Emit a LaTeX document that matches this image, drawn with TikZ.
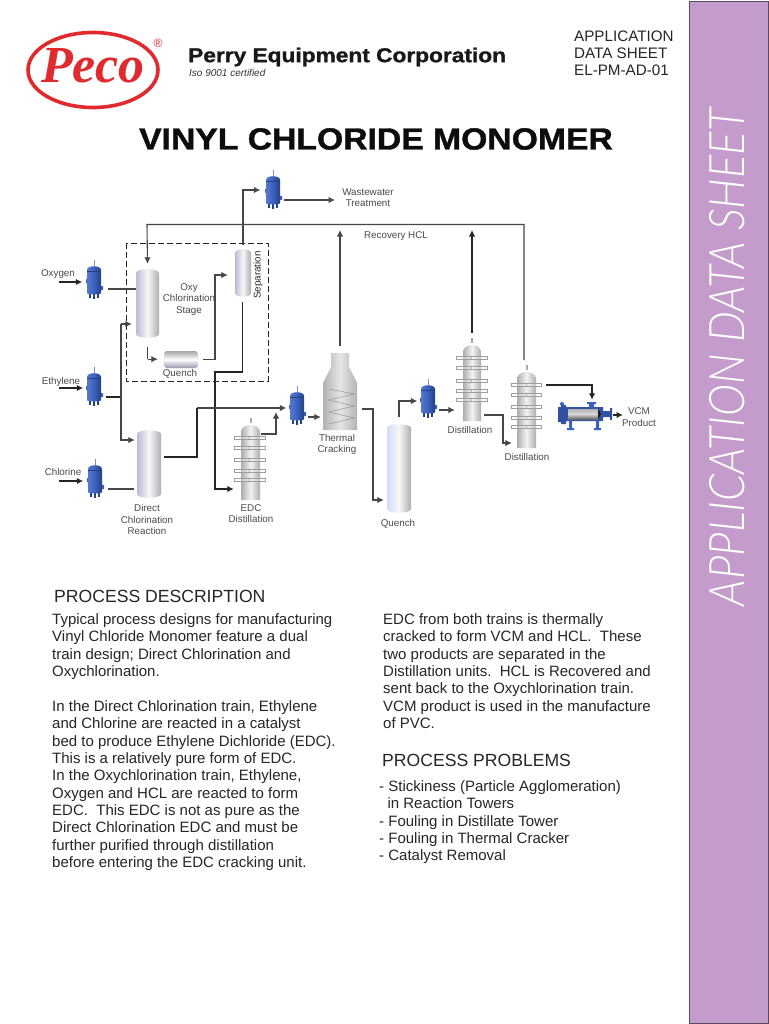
\documentclass[tikz,border=0pt]{standalone}
\usepackage{graphicx}
\usepackage{fontspec}
\setmainfont{Liberation Sans}
\newfontfamily\heavyfont[BoldFeatures={FakeBold=1.2}]{Liberation Sans}
\newfontfamily\sidefont{Lato Light Italic}
\newfontfamily\logofont{Liberation Serif}
\usetikzlibrary{arrows.meta,calc,shapes.geometric}
\definecolor{lilac}{HTML}{C49CCB}
\definecolor{lilacedge}{HTML}{5A4A5E}
\definecolor{pecored}{HTML}{E02A2E}
\definecolor{filterblue}{HTML}{3A60C0}
\definecolor{filterdark}{HTML}{24417F}
\definecolor{steel}{HTML}{A9ABAE}
\definecolor{lbl}{HTML}{4A4A4A}
\definecolor{vleft}{HTML}{B9BCD6}
\definecolor{vbigleft}{HTML}{D4DBF8}
\tikzset{
  x=1pt,y=-1pt,
  lab/.style={font=\fontsize{9.8}{11.3}\selectfont,text=lbl,align=center,inner sep=0pt},
  bodytxt/.style={font=\fontsize{15}{17.35}\selectfont,text=black!85,align=left,anchor=north west,inner sep=0pt},
  headtxt/.style={font=\fontsize{17.6}{20}\selectfont,text=black!85,anchor=west,inner sep=0pt},
  ln/.style={draw=black!72,line width=1.1pt},
  lnb/.style={draw=black!85,line width=1.8pt},
  arr/.style={-{Latex[length=6.5pt,width=6.5pt]}},
  tray/.style={draw=black!38,fill=white,fill opacity=.25,line width=.5pt},
}
\newcommand{\filterat}[3]{% name, x, y(center)
  \node[inner sep=0pt,minimum width=15pt,minimum height=38pt] (#1) at (#2,#3) {};
  \begin{scope}[shift={(#2,#3)}]
    \draw[filterblue!70,line width=.9pt] (0,-20) -- (0,-13);
    \draw[filterdark,line width=1.1pt] (-4,13) -- (-4,18) (0,13) -- (0,19) (4,13) -- (4,18);
    \fill[filterblue] (-8,-1) rectangle (-5,3) (5,6) rectangle (9,10);
    \shade[left color=filterblue!85,right color=filterdark,middle color=filterblue]
      (-7,-10) .. controls (-7,-15) and (7,-15) .. (7,-10) -- (7,13) .. controls (7,15) and (-7,15) .. (-7,13) -- cycle;
    \fill[filterdark] (-7,-9) rectangle (7,-8);
  \end{scope}}
\newcommand{\vesselat}[6]{% name x1 y1 x2 y2 left color
  \node[inner sep=0pt,minimum width={#4pt-#2pt},minimum height={#5pt-#3pt}] (#1) at ({(#2+#4)/2},{(#3+#5)/2}) {};
  \shade[left color=#6,right color=black!32,middle color=black!3]
   (#2,#3+5) .. controls (#2,#3) and (#4,#3) .. (#4,#3+5) -- (#4,#5-5) .. controls (#4,#5) and (#2,#5) .. (#2,#5-5) -- cycle;}
\newcommand{\columnat}[8]{% name x1 x2 top bottom(flat) tray-x1 tray-x2 tray-list
  \node[inner sep=0pt,minimum width={#3pt-#2pt},minimum height={#5pt-#4pt}] (#1) at ({(#2+#3)/2},{(#4+#5)/2}) {};
  \fill[steel] ({(#2+#3)/2-1},#4-7) rectangle ({(#2+#3)/2+1},#4-2);
  \shade[left color=black!32,right color=black!32,middle color=black!5]
   (#2,#5) -- (#2,#4+8) .. controls (#2,#4+1) and ({(#2+#3)/2-3},#4) .. ({(#2+#3)/2},#4) .. controls ({(#2+#3)/2+3},#4) and (#3,#4+1) .. (#3,#4+8) -- (#3,#5) -- cycle;
  \foreach \ty in {#8} {\draw[tray] (#6,\ty-1.3) rectangle (#7,\ty+1.3);
    \draw[black!30,line width=.3pt] ({(#6+#7)/2},\ty-1.3) -- ({(#6+#7)/2},\ty+1.3);}}
\begin{document}
\begin{tikzpicture}
\useasboundingbox (0,0) rectangle (768,1024);
\fill[white] (0,0) rectangle (768,1024);
% sidebar
\path[fill=lilac,draw=lilacedge,line width=.8pt] (689.5,1) -- (768,1) -- (768,1023.5) -- (689.5,1023.5) -- cycle;
\node[rotate=90,text=white,inner sep=0pt,font=\sidefont\fontsize{49}{49}\selectfont] (sidetitle) at (727,357.5) {\scalebox{.889}[1]{APPLICATION DATA SHEET}};
% logo
\node[draw=pecored,line width=3.6pt,ellipse,minimum width=130pt,minimum height=75pt,inner sep=0pt] (logo) at (93,70) {};
\node[text=pecored,inner sep=0pt,font=\logofont\bfseries\itshape\fontsize{52}{52}\selectfont] (logotxt) at (93,66) {Peco};
\node[text=pecored,inner sep=0pt,font=\fontsize{12}{12}\selectfont] (reg) at (158,43.5) {®};
% header
\node[anchor=west,inner sep=0pt,font=\heavyfont\bfseries\fontsize{20}{20}\selectfont,text=black!90] (corp) at (188,57) {\scalebox{1.135}[1]{Perry Equipment Corporation}};
\node[anchor=west,inner sep=0pt,font=\itshape\fontsize{10}{10}\selectfont,text=black!80] (iso) at (189,73) {Iso 9001 certified};
\node[anchor=north west,inner sep=0pt,align=left,font=\fontsize{15.2}{17}\selectfont,text=black!85] (appl) at (574,30.5) {APPLICATION\\DATA SHEET\\EL-PM-AD-01};
\node[inner sep=0pt,font=\heavyfont\bfseries\fontsize{30.5}{30.5}\selectfont,text=black!95] (title) at (376,139) {\scalebox{1.105}[1]{VINYL CHLORIDE MONOMER}};
% dashed box
\draw[black!85,line width=1pt,dash pattern=on 6pt off 3pt] (126,243) rectangle (268,381);
% equipment
\filterat{foxy}{94}{280}
\filterat{feth}{94}{387}
\filterat{fchl}{95}{479}
\filterat{ftop}{273}{190}
\filterat{fmid}{297}{406}
\filterat{fqu}{428}{399}
\vesselat{voxy}{136}{268}{159}{339}{vleft}
\vesselat{vsep}{235}{248}{251}{298}{vleft}
\vesselat{vdir}{137}{429}{161}{499}{vleft}
\vesselat{vbig}{387}{423}{411}{514}{vbigleft}
\node[inner sep=0pt,minimum width=34pt,minimum height=17pt] (vqu) at (181,359.5) {};
\shade[top color=black!35,bottom color=vleft!80!black,middle color=white,rounded corners=3pt] (164,351) rectangle (198,368);
\columnat{cedc}{241}{260}{425}{500}{234}{265}{438,448,460,471,480}
\columnat{cd1}{463}{481}{345}{421}{456}{487}{358,368,381,391,400}
\columnat{cd2}{517}{536}{372}{448}{511}{541}{385,395,407,418,427}
% thermal cracker
\node[inner sep=0pt,minimum width=34pt,minimum height=77pt] (therm) at (340,391.5) {};
\shade[left color=black!30,right color=black!30,middle color=black!10]
  (331,353) -- (349,353) -- (349,367) -- (357,383) -- (357,430) -- (323,430) -- (323,383) -- (331,367) -- cycle;
\draw[black!45,line width=.4pt] (329,389) -- (354,394) -- (329,400) -- (354,406) -- (329,412) -- (354,418) -- (329,424);
% heat exchanger
\node[inner sep=0pt,minimum width=54pt,minimum height=26pt] (hx) at (585,414) {};
\fill[filterblue!85!black] (558,407) rectangle (561,422) (561,405) rectangle (566,424) (566,407) rectangle (603,421) (603,411) rectangle (610,417) (610,408) rectangle (612,420);
\fill[filterblue] (562,404) circle (2pt) (589,403) rectangle (594,408) (587,402) rectangle (596,404) (569,420) rectangle (572,429) (596,420) rectangle (599,429) (567,428) rectangle (574,430) (594,428) rectangle (601,430);
\shade[top color=black!30,bottom color=black!60,middle color=black!15] (568,409) rectangle (598,419);
\fill[black!90] (598,409) -- (601,414) -- (598,419) -- cycle;
% connectors
\coordinate (oxyin) at (59,282);
\coordinate (ethin) at (59,388);
\coordinate (chlin) at (59,481);
\coordinate (ethj) at (121,397);
\coordinate (recr) at (524,224.5);
\coordinate (recl) at (147,224.5);
\coordinate (wwt) at (335,200);
\coordinate (vcm) at (623,415);
\draw[lnb,arr] (oxyin) -- ([xshift=-4pt]foxy.west |- oxyin);
\draw[lnb,arr] (ethin) -- ([xshift=-3pt]feth.west |- ethin);
\draw[lnb,arr] (chlin) -- ([xshift=-4pt]fchl.west |- chlin);
\draw[ln] ([xshift=6pt]foxy.east |- 0,289) -- (voxy.west |- 0,289);
\draw[ln] ([xshift=5pt]fchl.east |- 0,489) -- ([xshift=-3pt]vdir.west |- 0,489);
\draw[lnb] ([xshift=4pt]feth.east |- ethj) -- (ethj);
\draw[ln,arr] (ethj |- 0,324) -- ([xshift=-4pt]voxy.west |- 0,324);
\draw[ln,arr] (ethj |- 0,324) -- (ethj |- 0,440) -- ([xshift=-2pt]vdir.west |- 0,440);
% recovery HCL
\draw[ln,arr] (524,360) -- (recr) -- (recl) -- ([yshift=4pt]voxy.north);
\draw[ln,arr] (therm.center |- 0,346) -- (therm.center |- 0,230);
\draw[lnb,arr] (cd1.center |- 0,333) -- (cd1.center |- 0,230);
\draw[ln,arr] ([yshift=3pt]vsep.north) |- ([xshift=-5pt]ftop.west);
\draw[ln,arr] ([xshift=3pt]ftop.east |- wwt) -- (wwt);
\draw[ln] ([yshift=-8pt]voxy.south) -- ++(0,12) coordinate (oq);
\draw[ln,arr] (oq) -- ([xshift=-6pt]vqu.west |- oq);
\draw[ln,arr] ([xshift=5pt]vqu.east) -| (215,275) -- ([xshift=-7pt]vsep.west |- 0,275);
\draw[lnb,arr] ([xshift=-.5pt,yshift=-4pt]vsep.south) |- (215,372) |- ([xshift=-7pt]cedc.west |- 0,489);
\draw[lnb] ([xshift=3pt]vdir.east |- 0,457) -| (197,408) coordinate (dirc);
\draw[ln,arr] (dirc) -- ([xshift=-3pt]fmid.west |- dirc);
\draw[ln,arr] ([xshift=1pt]cedc.east |- 0,434) -| (276,412);
\draw[ln,arr] ([xshift=3pt]fmid.east |- 0,417) -- ([xshift=-2pt]therm.west |- 0,417);
\draw[ln,arr] ([xshift=5pt]therm.east |- 0,409) -| (373,500) -- ([xshift=-3pt]vbig.west |- 0,500);
\draw[ln,arr] (399,417) |- ([xshift=-3pt]fqu.west |- 0,401);
\draw[ln,arr] ([xshift=3pt]fqu.east |- 0,410) -- ([xshift=-8pt]cd1.west |- 0,410);
\draw[ln,arr] ([xshift=3pt]cd1.east |- 0,415) -| (503,443) -- ([xshift=-5pt]cd2.west |- 0,443);
\draw[lnb,arr] ([xshift=10pt]cd2.east |- 0,385) -| ([xshift=7pt,yshift=1pt]hx.north);
\draw[lnb,arr] ([xshift=1pt]hx.east |- 0,415) -- (vcm);
% labels
\node[lab] (tox) at (58,274) {Oxygen};
\node[lab] (teth) at (61,382) {Ethylene};
\node[lab] (tchl) at (63,472) {Chlorine};
\node[lab] (toxy) at (189,299.5) {Oxy\\Chlorination\\Stage};
\node[lab,text=black!85,rotate=90] (tsep) at (258,275) {Separation};
\node[lab] (tqu) at (180,374) {Quench};
\node[lab] (tdir) at (147,519.5) {Direct\\Chlorination\\Reaction};
\node[lab] (tedc) at (251,513.5) {EDC\\Distillation};
\node[lab] (tth) at (337,444.5) {Thermal\\Cracking};
\node[lab] (tqb) at (398,524) {Quench};
\node[lab] (td1) at (470,430) {Distillation};
\node[lab] (td2) at (527,457) {Distillation};
\node[lab] (tvcm) at (639,417) {VCM\\Product};
\node[lab] (tww) at (368,197.5) {Wastewater\\Treatment};
\node[lab] (trec) at (396,236) {Recovery HCL};
% text
\node[headtxt] (h1) at (54,596) {PROCESS DESCRIPTION};
\node[bodytxt] (b1) at (52,613.5) {Typical process designs for manufacturing\\Vinyl Chloride Monomer feature a dual\\train design; Direct Chlorination and\\Oxychlorination.\\[17.35pt]In the Direct Chlorination train, Ethylene\\and Chlorine are reacted in a catalyst\\bed to produce Ethylene Dichloride (EDC).\\This is a relatively pure form of EDC.\\In the Oxychlorination train, Ethylene,\\Oxygen and HCL are reacted to form\\EDC.\ \ This EDC is not as pure as the\\Direct Chlorination EDC and must be\\further purified through distillation\\before entering the EDC cracking unit.};
\node[bodytxt] (b2) at (383,613.5) {EDC from both trains is thermally\\cracked to form VCM and HCL.\ \ These\\two products are separated in the\\Distillation units.\ \ HCL is Recovered and\\sent back to the Oxychlorination train.\\VCM product is used in the manufacture\\of PVC.};
\node[headtxt] (h2) at (382,760) {PROCESS PROBLEMS};
\node[bodytxt] (b3) at (379,780.5) {- Stickiness (Particle Agglomeration)\\\ \ in Reaction Towers\\- Fouling in Distillate Tower\\- Fouling in Thermal Cracker\\- Catalyst Removal};
\end{tikzpicture}
\end{document}
